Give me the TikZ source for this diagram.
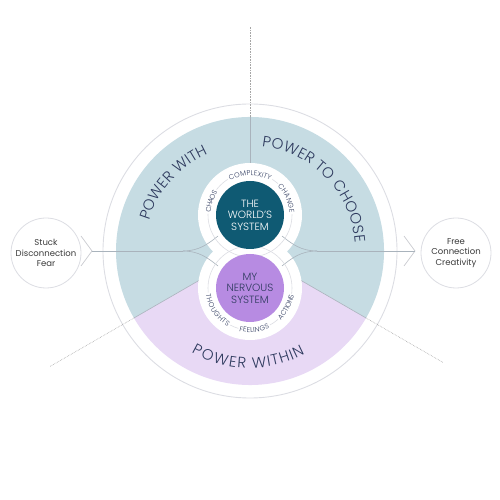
\documentclass[tikz,border=0pt]{standalone}
\usepackage{fontspec}
\IfFontExistsTF{Poppins Light}{\setmainfont{Poppins Light}}{\setmainfont{Poppins}}
\newfontfamily\regfont{Poppins}
\usetikzlibrary{decorations.text,calc}
\definecolor{blu}{HTML}{C6DCE3}
\definecolor{pnk}{HTML}{E8D9F5}
\definecolor{tealc}{HTML}{0F5A73}
\definecolor{purp}{HTML}{B78BE2}
\definecolor{navy}{HTML}{2E3A5E}
\definecolor{ringgray}{HTML}{DCDDE3}
\definecolor{linegray}{HTML}{A9B3BC}
\definecolor{darktext}{HTML}{3A3A3A}
\newcommand\powfont{\fontsize{15}{15}\selectfont}
\newcommand\ringfont{\fontsize{7}{7}\selectfont}
\begin{document}
\begin{tikzpicture}[x=1pt,y=1pt,
  sector/.style={draw=linegray, line width=0.6},
  outer/.style={draw=gray!70, densely dotted, line width=0.6},
  flow/.style={draw=linegray, line width=0.6},
  chev/.style={draw=ringgray!80!gray, line width=0.7},
  endcircle/.style={circle, draw=ringgray, fill=white, minimum size=70, inner sep=0, align=center, font=\regfont\fontsize{8.5}{10.5}\selectfont, text=darktext, line width=0.8},
  core/.style={circle, minimum size=68, inner sep=0, align=center, font=\fontsize{10.5}{11.5}\selectfont},
  ringline/.style={draw=ringgray, line width=0.6},
  mask/.style={draw=white, line width=7},
  powtext/.style={decorate, decoration={text effects along path, text={#1}, text effects/.cd, text along path, fit text to path, characters={text=navy, font=\powfont}}},
  ringtext/.style={decorate, decoration={text effects along path, text={#1}, text effects/.cd, text along path, fit text to path, characters={text=navy, font=\ringfont}}}
]
\useasboundingbox (0,0) rectangle (500,500);
\coordinate (C) at (250,249);
\coordinate (U) at (250,285);
\coordinate (L) at (250,212);

% main disk
\fill[blu] (C) -- ($(C)+(-30:134)$) arc[start angle=-30,end angle=210,radius=134] -- cycle;
\fill[pnk] (C) -- ($(C)+(210:134)$) arc[start angle=210,end angle=330,radius=134] -- cycle;
\draw[ringgray, line width=0.9] (C) circle[radius=147];

% radial lines
\coordinate (t0) at ($(C)+(90:134)$); \coordinate (t1) at ($(C)+(90:225)$);
\coordinate (l0) at ($(C)+(210:134)$); \coordinate (l1) at ($(C)+(210:231)$);
\coordinate (r0) at ($(C)+(330:134)$); \coordinate (r1) at ($(C)+(330:223)$);
\draw[sector] (C) -- (t0);
\draw[sector] (C) -- (l0);
\draw[sector] (C) -- (r0);
\draw[outer] (t0) -- (t1);
\draw[outer] (l0) -- (l1);
\draw[outer] (r0) -- (r1);

% end circles and chevrons
\node[endcircle] (stuck) at (46,247) {Stuck\\Disconnection\\Fear};
\node[endcircle] (free) at (456,247) {Free\\Connection\\Creativity};
\coordinate (chl) at (92,249);
\coordinate (chr) at (415,249);
\coordinate (hl) at (183,249);
\coordinate (hr) at (317,249);
\draw[chev] ($(chl)+(-11,15)$) -- (chl) -- ($(chl)+(-11,-15)$);
\draw[chev] ($(chr)+(-11,15)$) -- (chr) -- ($(chr)+(-11,-15)$);
\draw[flow] (chl) -- (hl);
\draw[flow] (hr) -- (chr);

% figure eight
\fill[white] (U) circle[radius=52];
\fill[white] (L) circle[radius=52];
\draw[flow] (hl) .. controls +(16,0) and +(-10,-8) .. (218,264);
\draw[flow] (hl) .. controls +(16,0) and +(-10,8) .. (218,234);
\draw[flow] (hr) .. controls +(-16,0) and +(10,-8) .. (282,264);
\draw[flow] (hr) .. controls +(-16,0) and +(10,8) .. (282,234);
\draw[ringline] (U) circle[radius=42];
\draw[ringline] (L) circle[radius=42];

% masks under ring words
\draw[mask] ($(U)+(178:42)$) arc[start angle=178,end angle=143,radius=42];
\draw[mask] ($(U)+(122:42)$) arc[start angle=122,end angle=58,radius=42];
\draw[mask] ($(U)+(48:42)$) arc[start angle=48,end angle=1,radius=42];
\draw[mask] ($(L)+(186:42)$) arc[start angle=186,end angle=242,radius=42];
\draw[mask] ($(L)+(254:42)$) arc[start angle=254,end angle=298,radius=42];
\draw[mask] ($(L)+(312:42)$) arc[start angle=312,end angle=352,radius=42];

\node[core, fill=tealc, text=white] (world) at (U) {THE\\WORLD'S\\SYSTEM};
\node[core, fill=purp, text=navy] (nerv) at (L) {MY\\NERVOUS\\SYSTEM};

% ring words
\path[ringtext={CHAOS}] ($(U)+(176:39.5)$) arc[start angle=176,end angle=145,radius=39.5];
\path[ringtext={COMPLEXITY}] ($(U)+(120:39.5)$) arc[start angle=120,end angle=60,radius=39.5];
\path[ringtext={CHANGE}] ($(U)+(46:39.5)$) arc[start angle=46,end angle=3,radius=39.5];
\path[ringtext={THOUGHTS}] ($(L)+(188:44.5)$) arc[start angle=188,end angle=240,radius=44.5];
\path[ringtext={FEELINGS}] ($(L)+(256:44.5)$) arc[start angle=256,end angle=296,radius=44.5];
\path[ringtext={ACTIONS}] ($(L)+(314:44.5)$) arc[start angle=314,end angle=350,radius=44.5];

% power words
\path[powtext={POWER WITH}] ($(C)+(163:105.5)$) arc[start angle=163,end angle=113.5,radius=105.5];
\path[powtext={POWER TO CHOOSE}] ($(C)+(83.5:105.5)$) arc[start angle=83.5,end angle=4.5,radius=105.5];
\path[powtext={POWER WITHIN}] ($(C)+(-120:117)$) arc[start angle=-120,end angle=-62,radius=117];
\end{tikzpicture}
\end{document}
